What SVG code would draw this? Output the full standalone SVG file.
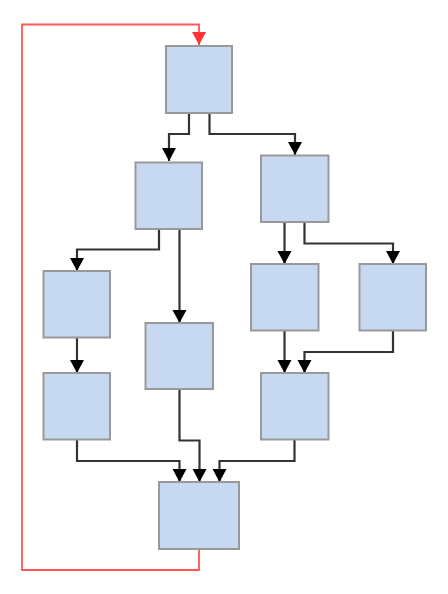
<svg xmlns="http://www.w3.org/2000/svg" width="448" height="594" viewBox="0 0 448 594">
<style>
.node{fill:#c6d9f0;stroke:#999999;stroke-width:2}
.edge{fill:none;stroke:#333333;stroke-width:2.2}
.back{fill:none;stroke:#ff5555;stroke-width:1.8}
</style>
<defs>
<marker id="ah" markerUnits="userSpaceOnUse" markerWidth="15" markerHeight="15" refX="13" refY="7" orient="auto">
<path d="M0,0 L13,7 L0,14 Z" fill="#000"/>
</marker>
<marker id="ahr" markerUnits="userSpaceOnUse" markerWidth="15" markerHeight="15" refX="13" refY="7" orient="auto">
<path d="M0,0 L13,7 L0,14 Z" fill="#ff3333"/>
</marker>
</defs>
<g id="connectors">
<path class="back" d="M199,549 V570 H22 V24.5 H199 V45" marker-end="url(#ahr)"/>
<path class="edge" d="M189,113 V134 H169 V161" marker-end="url(#ah)"/>
<path class="edge" d="M209.5,113 V134 H295 V155" marker-end="url(#ah)"/>
<path class="edge" d="M159,229 V249.5 H77 V271" marker-end="url(#ah)"/>
<path class="edge" d="M179.5,229 V323" marker-end="url(#ah)"/>
<path class="edge" d="M284.5,222 V264" marker-end="url(#ah)"/>
<path class="edge" d="M304.5,222 V243.5 H393 V264" marker-end="url(#ah)"/>
<path class="edge" d="M77,337 V373" marker-end="url(#ah)"/>
<path class="edge" d="M284.5,330 V373" marker-end="url(#ah)"/>
<path class="edge" d="M393,330 V352 H304.5 V373" marker-end="url(#ah)"/>
<path class="edge" d="M77,439 V461 H179.5 V482" marker-end="url(#ah)"/>
<path class="edge" d="M179.5,389 V440.5 H199.5 V482" marker-end="url(#ah)"/>
<path class="edge" d="M294.5,439 V461 H219.5 V482" marker-end="url(#ah)"/>
</g>
<g id="n1"><rect class="node" x="166" y="46" width="66" height="67"/></g>
<g id="n2"><rect class="node" x="135.5" y="162.5" width="66.5" height="66.5"/></g>
<g id="n3"><rect class="node" x="261" y="155.5" width="67.5" height="66.5"/></g>
<g id="n4"><rect class="node" x="43.5" y="271" width="66.5" height="66.5"/></g>
<g id="n5"><rect class="node" x="145.5" y="323" width="67.5" height="66"/></g>
<g id="n6"><rect class="node" x="251" y="264" width="67.5" height="66.5"/></g>
<g id="n7"><rect class="node" x="359.5" y="264" width="66.5" height="66.5"/></g>
<g id="n8"><rect class="node" x="43.5" y="373" width="66.5" height="66.5"/></g>
<g id="n9"><rect class="node" x="261" y="373" width="67.5" height="66.5"/></g>
<g id="n10"><rect class="node" x="159" y="482" width="80" height="67"/></g>
</svg>
